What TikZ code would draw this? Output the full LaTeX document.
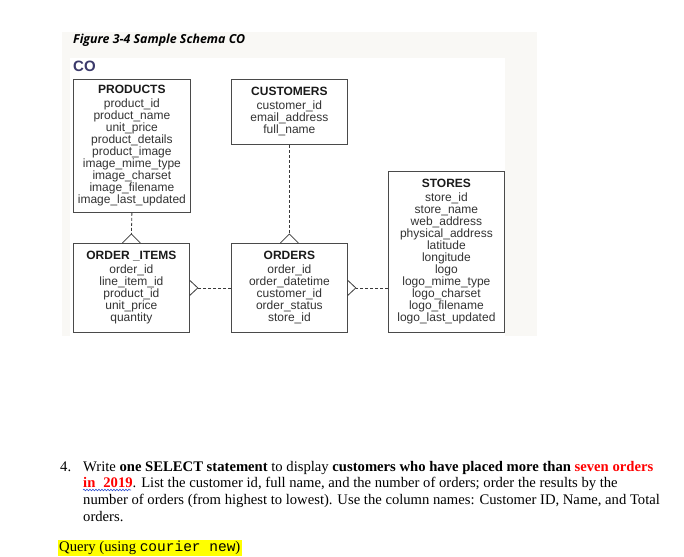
\documentclass[tikz,border=0pt]{standalone}
\usepackage{fontspec}
\setmainfont{Liberation Serif}
\setsansfont{Liberation Sans}
\setmonofont{Liberation Mono}
\newfontfamily\figfont{Open Sans}
\usetikzlibrary{decorations.pathmorphing}
\definecolor{offwhite}{HTML}{F9F8F5}
\definecolor{boxc}{HTML}{4A4A4A}
\definecolor{linec}{HTML}{3A3A3A}
\definecolor{fieldc}{HTML}{333333}
\definecolor{titlec}{HTML}{1A1A1A}
\definecolor{conavy}{HTML}{3B3A6B}
\definecolor{hlyellow}{HTML}{FFFF00}
\definecolor{wavyblue}{HTML}{3050D0}
\newcommand{\fieldfont}{\sffamily\fontsize{12}{12}\selectfont}
\newcommand{\tbltitle}[1]{{\bfseries\color{titlec}#1}\\[2pt]}
\tikzset{
  tbl/.style={draw=boxc, line width=0.8pt, anchor=north west, inner sep=0pt,
    align=center, font=\fieldfont, text=fieldc},
  rel/.style={draw=linec, line width=0.8pt, dash pattern=on 3pt off 2pt},
  crow/.style={draw=linec, line width=0.8pt},
  para/.style={anchor=base west, inner sep=0pt, font=\fontsize{14.65}{16.7}\selectfont}
}
\begin{document}
\begin{tikzpicture}[x=1pt,y=-1pt]
\useasboundingbox (0,0) rectangle (684,556);
\fill[white] (0,0) rectangle (684,556);
\fill[offwhite] (62,32) rectangle (537,336);
\fill[white] (70,58) rectangle (505,336);

\node[anchor=west, inner sep=0pt, font=\figfont\bfseries\itshape\fontsize{12.4}{14}\selectfont] (figtitle) at (73,40) {Figure 3-4 Sample Schema CO};
\node[anchor=west, inner sep=0pt, font=\sffamily\bfseries\fontsize{15}{16}\selectfont, text=conavy] (co) at (73,66) {CO};

\node[tbl, minimum width=117pt, minimum height=133pt] (prod) at (73,79) {\tbltitle{PRODUCTS}product\_id\\product\_name\\unit\_price\\product\_details\\product\_image\\image\_mime\_type\\image\_charset\\image\_filename\\image\_last\_updated};
\node[tbl, minimum width=116pt, minimum height=65pt] (cust) at (231,79) {\tbltitle{CUSTOMERS}customer\_id\\email\_address\\full\_name};
\node[tbl, minimum width=116pt, minimum height=89pt] (oi) at (73,243) {\tbltitle{ORDER \_ITEMS}order\_id\\line\_item\_id\\product\_id\\unit\_price\\quantity};
\node[tbl, minimum width=116pt, minimum height=89pt] (orders) at (231,243) {\tbltitle{ORDERS}order\_id\\order\_datetime\\customer\_id\\order\_status\\store\_id};
\node[tbl, minimum width=116pt, minimum height=161pt] (stores) at (388,171) {\tbltitle{STORES}store\_id\\store\_name\\web\_address\\physical\_address\\latitude\\longitude\\logo\\logo\_mime\_type\\logo\_charset\\logo\_filename\\logo\_last\_updated};

% PRODUCTS -> ORDER_ITEMS
\draw[rel] (prod.south) -- ([yshift=9pt]oi.north);
\draw[crow] ([xshift=-9pt]oi.north) -- ([yshift=9pt]oi.north) -- ([xshift=9pt]oi.north);
% CUSTOMERS -> ORDERS
\draw[rel] (cust.south) -- ([yshift=9pt]orders.north);
\draw[crow] ([xshift=-9pt]orders.north) -- ([yshift=9pt]orders.north) -- ([xshift=9pt]orders.north);
% ORDERS -> ORDER_ITEMS
\draw[rel] (orders.west) -- ([xshift=8pt]oi.east);
\draw[crow] ([yshift=7.5pt]oi.east) -- ([xshift=8pt]oi.east) -- ([yshift=-7.5pt]oi.east);
% STORES -> ORDERS
\draw[rel] (stores.west |- orders.east) -- ([xshift=8pt]orders.east);
\draw[crow] ([yshift=7.5pt]orders.east) -- ([xshift=8pt]orders.east) -- ([yshift=-7.5pt]orders.east);

% question text
\node[para] (num) at (60,471) {4.};
\node[para] (l1) at (83,471) {Write \textbf{one SELECT statement} to display \textbf{customers who have placed more than} \textbf{\color{red}seven orders}};
\node[para] (l2) at (83,487.7) {\textbf{\color{red}in\hspace{8pt}2019}. List the customer id, full name, and the number of orders; order the results by the};
\node[para] (l3) at (83,504.4) {number of orders (from highest to lowest). Use the column names: Customer ID, Name, and Total};
\node[para] (l4) at (83,521.1) {orders.};
\draw[wavyblue, line width=0.6pt, decorate, decoration={snake, amplitude=0.8pt, segment length=3pt}] (83,490) -- (131,490);

\fill[hlyellow] (58,540) rectangle (242,556);
\node[para] (query) at (59,551.5) {Query (using {\ttfamily\fontsize{14.5}{16}\selectfont courier new})};
\end{tikzpicture}
\end{document}
